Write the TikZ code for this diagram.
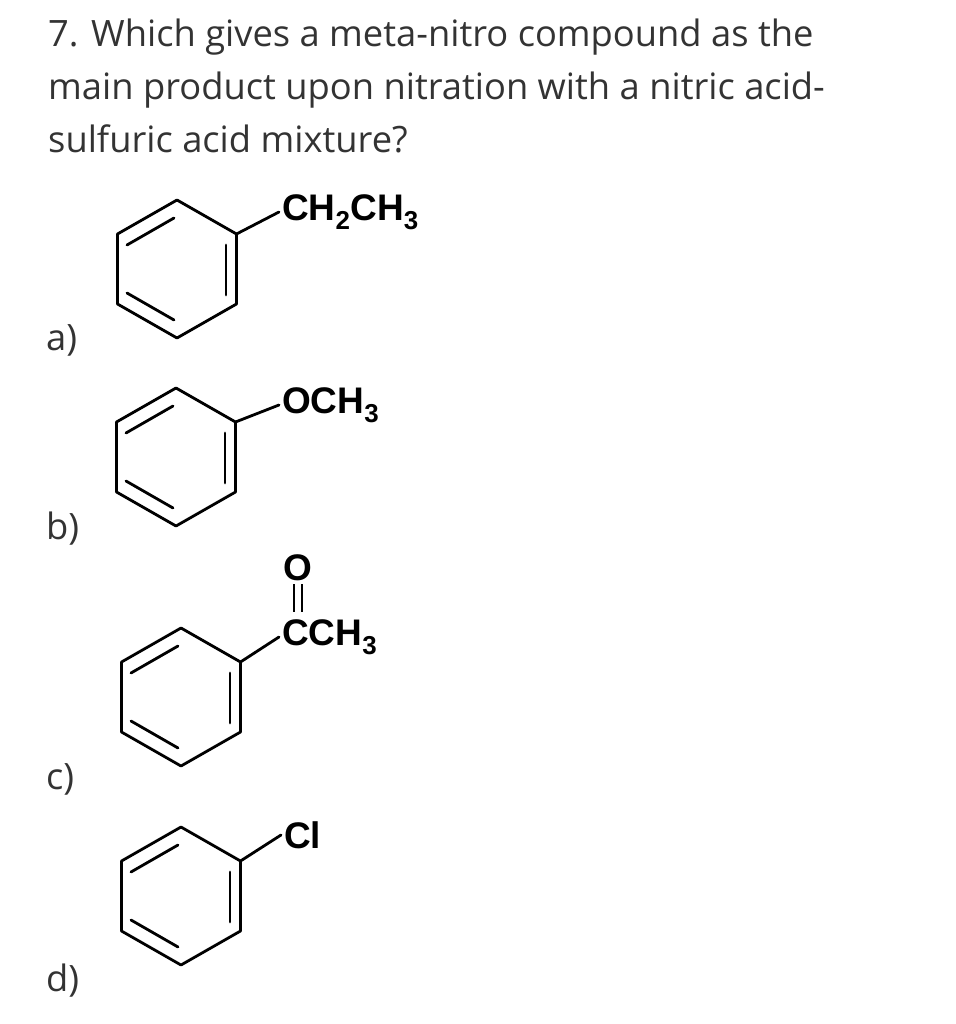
\documentclass[tikz,border=0pt]{standalone}
\usepackage{fontspec}
\setmainfont{Open Sans}
\newfontfamily\chem{Liberation Sans}
\begin{document}
\begin{tikzpicture}[x=1pt,y=-1pt,
  q/.style={anchor=base west,inner sep=0,font=\fontsize{36.3}{40}\selectfont,text=black!80},
  lab/.style={anchor=base west,inner sep=0,font=\fontsize{36.3}{40}\selectfont,text=black!80},
  grp/.style={anchor=west,inner sep=0,font=\chem\bfseries\fontsize{37}{40}\selectfont},
  bond/.style={line width=2.8pt,line join=round,line cap=round}]
\useasboundingbox (0,0) rectangle (955,1024);
\node[q] (l1) at (48,47) {7. Which gives a meta-nitro compound as the};
\node[q] (l2) at (48,100) {main product upon nitration with a nitric acid-};
\node[q] (l3) at (48,153) {sulfuric acid mixture?};
\node[lab] (la) at (46,350) {a)};
\node[lab] (lb) at (46,539) {b)};
\node[lab] (lc) at (46,789) {c)};
\node[lab] (ld) at (46,991) {d)};
\newcommand{\ring}[3]{%
 \begin{scope}[shift={(#1,#2)}]
  \coordinate (#3t) at (0,-69); \coordinate (#3ur) at (59.5,-35);
  \coordinate (#3lr) at (59.5,35); \coordinate (#3b) at (0,69);
  \coordinate (#3ll) at (-59.5,35); \coordinate (#3ul) at (-59.5,-35);
  \draw[bond] (#3t)--(#3ur)--(#3lr)--(#3b)--(#3ll)--(#3ul)--cycle;
  \draw[bond] (-50,-24) -- (-3,-51);
  \draw[bond] (49,-24) -- (49,26);
  \draw[bond] (-50,24) -- (-3,51);
 \end{scope}}
\ring{177}{269}{a}
\node[grp] (ga) at (282,212) {CH\textsubscript{2}CH\textsubscript{3}};
\draw[bond] (aur) -- ([shift={(-3,0)}]ga.west);
\ring{176}{457}{b}
\node[grp] (gb) at (282,405) {OCH\textsubscript{3}};
\draw[bond] (bur) -- ([shift={(-3,0)}]gb.west);
\ring{181}{697}{c}
\node[grp] (gc) at (282,637) {CCH\textsubscript{3}};
\node[grp,anchor=center] (oc) at (298,568) {O};
\draw[line width=2.4pt] (294,584) -- (294,612) (302,584) -- (302,612);
\draw[bond] (cur) -- ([shift={(-3,0)}]gc.west);
\ring{181}{896}{d}
\node[grp] (gd) at (284,835) {Cl};
\draw[bond] (dur) -- ([shift={(-3,0)}]gd.west);
\end{tikzpicture}
\end{document}
